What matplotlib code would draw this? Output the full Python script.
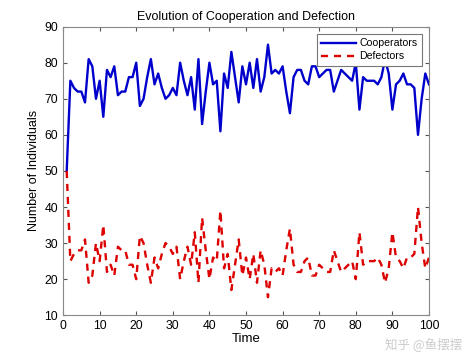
import matplotlib.pyplot as plt
import numpy as np

plt.rcParams['font.family'] = ['Liberation Sans', 'DejaVu Sans']

# population counts
time = np.arange(1, 101)
cooperators = [50, 75, 73, 72, 72, 69, 81, 79, 70, 75,
               65, 78, 76, 79, 71, 72, 72, 76, 76, 80,
               68, 70, 76, 81, 74, 77, 73, 70, 71, 73,
               71, 80, 75, 71, 76, 67, 81, 63, 72, 80,
               74, 75, 61, 77, 73, 83, 76, 69, 79, 74,
               80, 73, 81, 72, 76, 85, 77, 78, 77, 79,
               72, 66, 76, 78, 78, 75, 74, 79, 79, 76,
               77, 78, 78, 72, 75, 78, 77, 76, 75, 80,
               67, 76, 75, 75, 75, 74, 76, 81, 77, 67,
               74, 75, 77, 74, 74, 73, 60, 70, 77, 74]
defectors = [50, 25, 27, 28, 28, 31, 19, 21, 30, 25,
             35, 22, 24, 21, 29, 28, 28, 24, 24, 20,
             32, 30, 24, 19, 26, 23, 27, 30, 29, 27,
             29, 20, 25, 29, 24, 33, 19, 37, 28, 20,
             26, 25, 39, 23, 27, 17, 24, 31, 21, 26,
             20, 27, 19, 28, 24, 15, 23, 22, 23, 21,
             28, 34, 24, 22, 22, 25, 26, 21, 21, 24,
             23, 22, 22, 28, 25, 22, 23, 24, 25, 20,
             33, 24, 25, 25, 25, 26, 24, 19, 23, 33,
             26, 25, 23, 26, 26, 27, 40, 30, 23, 26]

fig = plt.figure(figsize=(4.74, 3.55), dpi=100)
ax = fig.add_axes([0.133, 0.112, 0.772, 0.813])

ax.plot(time, cooperators, color='#0000cc', linewidth=1.7, label='Cooperators')
ax.plot(time, defectors, color='#dd0000', linewidth=1.7, linestyle=(0, (3, 2.5)), label='Defectors')

ax.set_xlim(0, 100)
ax.set_ylim(10, 90)
ax.set_xticks(np.arange(0, 101, 10))
ax.set_yticks(np.arange(10, 91, 10))
ax.tick_params(direction='in', top=True, right=True, labelsize=8.8, length=3, color='#555555')
for s in ax.spines.values():
    s.set_color('#888888')
    s.set_linewidth(0.8)

ax.set_title('Evolution of Cooperation and Defection', fontsize=9, pad=5)
ax.set_xlabel('Time', fontsize=9.5, labelpad=1)
ax.set_ylabel('Number of Individuals', fontsize=9, labelpad=3)

leg = ax.legend(loc='upper right', fontsize=7.6, fancybox=False, framealpha=1,
                edgecolor='#777777', handlelength=3.3, borderpad=0.4,
                labelspacing=0.3, handletextpad=0.3, borderaxespad=0.7)
leg.get_frame().set_linewidth(0.8)

fig.text(0.975, 0.03, '知乎 @鱼摆摆', ha='right', va='center', fontsize=9,
         color='#cccccc', family=['Noto Sans CJK SC', 'DejaVu Sans'])

fig.savefig('out.png', dpi=100)
